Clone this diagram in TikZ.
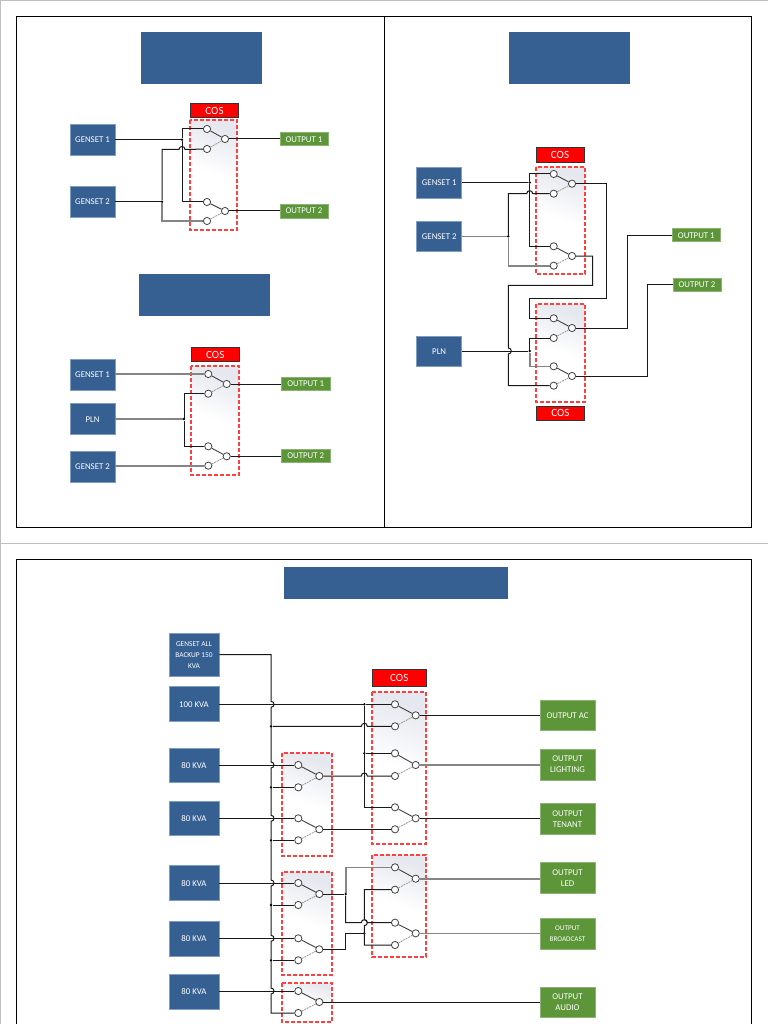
\documentclass[tikz,border=0pt]{standalone}
\usepackage{fontspec}
\setmainfont{Carlito}
\definecolor{blk}{HTML}{366092}
\definecolor{blkb}{HTML}{7F9DBE}
\definecolor{grn}{HTML}{5C9638}
\definecolor{grnb}{HTML}{8DB374}
\definecolor{redd}{HTML}{FF4040}
\definecolor{shad}{HTML}{E6E8EF}
\tikzset{
  x=1pt,y=-1pt,
  blockst/.style={fill=blk,draw=blkb,line width=.5pt,text=white,font=\fontsize{8.8}{11}\selectfont,align=center,inner sep=0pt},
  outst/.style={fill=grn,draw=grnb,line width=.5pt,text=white,font=\fontsize{8.8}{11}\selectfont,align=center,inner sep=0pt},
  cosst/.style={fill=red,draw=black!80,line width=1pt,text=white,font=\fontsize{11}{13}\selectfont,inner sep=0pt},
  titlest/.style={fill=blk,draw=none,inner sep=0pt},
  term/.style={circle,draw=black!75,fill=white,line width=.8pt,minimum size=7.2pt,inner sep=0pt},
  jdot/.style={circle,fill=black,minimum size=2.6pt,inner sep=0pt},
  wire/.style={draw=black!90,line width=1pt},
  gwire/.style={draw=black!48,line width=1.6pt},
  arm/.style={draw=black!75,line width=.9pt},
  armd/.style={draw=black!40,line width=.8pt},
  framest/.style={draw=black,line width=.8pt},
}
% box from corners: style, name, x1, y1, x2, y2, text
\newcommand{\bx}[7]{%
  \pgfmathsetmacro{\bxcx}{(#3+#5)/2}\pgfmathsetmacro{\bxcy}{(#4+#6)/2}%
  \pgfmathsetmacro{\bxw}{#5-#3}\pgfmathsetmacro{\bxh}{#6-#4}%
  \node[#1,minimum width=\bxw pt,minimum height=\bxh pt] (#2) at (\bxcx,\bxcy) {#7};}
% dashed shaded enclosure, corners snapped to whole pixels
\newcommand{\dbox}[4]{%
  \pgfmathsetmacro{\dxa}{round(#1)}\pgfmathsetmacro{\dya}{round(#2)}%
  \pgfmathsetmacro{\dxb}{round(#3)}\pgfmathsetmacro{\dyb}{round(#4)}%
  \shade[top color=shad,bottom color=white,middle color=white,shading angle=-20] (\dxa,\dya) rectangle (\dxb,\dyb);
  \draw[redd,line width=2pt,dash pattern=on 4pt off 2pt] (\dxa,\dya) rectangle (\dxb,\dyb);}
% switch: prefix, xa, ya, yb, xc, yc
\newcommand{\swt}[6]{%
  \node[term] (#1a) at (#2,#3) {};
  \node[term] (#1b) at (#2,#4) {};
  \node[term] (#1c) at (#5,#6) {};
  \draw[arm] (#1a) -- (#1c);
  \draw[armd,dashed,dash pattern=on 2pt off .8pt] (#1b) -- (#1c);}
\newcommand{\hophz}[2]{-- ({#1-3},#2) .. controls ({#1-3},{#2-4}) and ({#1+3},{#2-4}) .. ({#1+3},#2)}
\newcommand{\hopvt}[2]{-- (#1,{#2-3}) .. controls ({#1+4},{#2-3}) and ({#1+4},{#2+3}) .. (#1,{#2+3})}
\begin{document}
\begin{tikzpicture}
\useasboundingbox (0,0) rectangle (768,1024);
\fill[white] (0,0) rectangle (768,1024);
% page edges
\draw[black!25,line width=.8pt] (0,0.5) -- (768,0.5);
\draw[black!25,line width=.8pt] (0,543.5) -- (768,543.5);
\draw[black!25,line width=1pt] (0.5,0) -- (0.5,1024);
% frames
\draw[framest] (16.5,16.5) rectangle (751.5,527.5);
\draw[framest] (384.5,16.5) -- (384.5,527.5);
\draw[framest] (16.5,1024) -- (16.5,559.5) -- (751.5,559.5) -- (751.5,1024);
% titles
\bx{titlest}{t1}{141}{32}{262}{84}{}
\bx{titlest}{t2}{509}{32}{630}{84}{}
\bx{titlest}{t3}{139}{274}{270}{316}{}
\bx{titlest}{t4}{284}{567}{508}{599}{}

%% ---------- Panel 1
\dbox{189.7}{120.3}{237.3}{230}
\bx{cosst}{p1cos}{190.5}{103.5}{238.5}{118}{COS}
\bx{blockst}{p1g1}{70}{124.3}{115}{155.7}{GENSET 1}
\bx{blockst}{p1g2}{70}{186}{115}{217}{GENSET 2}
\bx{outst}{p1o1}{280}{132.7}{328}{145.7}{OUTPUT 1}
\bx{outst}{p1o2}{280}{204}{328}{218}{OUTPUT 2}
\swt{p1s}{207}{129}{149}{225}{139}
\swt{p1u}{207}{202}{221}{225}{211}
\node[jdot] (p1j1) at (182,139.7) {};
\node[jdot] (p1j2) at (162,201.7) {};
\draw[wire] (p1g1.east |- p1j1) -- (p1j1);
\draw[wire] (p1g2.east |- p1j2) -- (p1j2);
\draw[wire] (p1sa) -| (p1j1);
\draw[wire] (p1ua) -| (p1j1);
\draw[wire] (p1j2) |- (176,149.5) \hophz{182}{149.5} -- (p1sb);
\draw[gwire] (p1ub) -| (p1j2);
\draw[wire] (p1sc) -- (p1o1.west |- p1sc);
\draw[wire] (p1uc) -- (p1o2.west |- p1uc);

%% ---------- Panel 2 (right)
\dbox{535.7}{166.7}{584.7}{274.3}
\dbox{535.7}{303.7}{584.7}{402.3}
\bx{cosst}{p2cos}{536}{148}{584}{162.3}{COS}
\bx{cosst}{p2cosb}{536}{406}{584.7}{420.3}{COS}
\bx{blockst}{p2g1}{416.7}{167.3}{461.7}{198}{GENSET 1}
\bx{blockst}{p2g2}{416.7}{221.7}{461.7}{251.7}{GENSET 2}
\bx{blockst}{p2pl}{416.7}{336.7}{461.7}{366.7}{PLN}
\bx{outst}{p2o1}{672.3}{228.7}{720.3}{241.7}{OUTPUT 1}
\bx{outst}{p2o2}{673}{278.3}{721}{291}{OUTPUT 2}
\swt{p2s}{553.7}{174}{193.7}{572}{183.7}
\swt{p2t}{553.7}{246.3}{265.7}{572}{256}
\swt{p2u}{553.7}{318.3}{338}{572}{328}
\swt{p2v}{553.7}{366.3}{385.7}{572}{376}
\node[jdot] (p2j1) at (529.7,182.5) {};
\node[jdot] (p2j2) at (508.3,236.3) {};
\node[jdot] (p2j3) at (529.7,351) {};
\draw[wire] (p2g1.east |- p2j1) -- (p2j1);
\draw[gwire] (p2g2.east |- p2j2) -- (p2j2);
\draw[wire] (p2sa) -| (p2j1);
\draw[wire] (p2ta) -| (p2j1);
\draw[wire] (p2j2) |- (524,193.7) \hophz{529.7}{193.7} -- (p2sb);
\draw[gwire] (p2tb) -| (p2j2);
\draw[wire] (p2sc) -| (606.7,298.7) -| (529.7,318.3) -- (p2ua);
\draw[wire] (p2tc) -| (592.7,285.3) -| (508.3,348) \hopvt{508.3}{351} |- (p2vb);
\draw[wire] (p2pl.east |- p2j3) -- (p2j3);
\draw[wire] (p2ub) -| (p2j3);
\draw[gwire] (p2va) -| (p2j3);
\draw[wire] (p2uc) -| (627.3,235) -- (p2o1.west |- 627.3,235);
\draw[wire] (p2vc) -| (647.3,284.3) -- (p2o2.west |- 647.3,284.3);

%% ---------- Panel 3 (left lower)
\dbox{191.3}{365.7}{239.3}{475}
\bx{cosst}{p3cos}{191.5}{347.5}{239}{361.7}{COS}
\bx{blockst}{p3g1}{70}{359}{115}{390}{GENSET 1}
\bx{blockst}{p3pl}{70}{403.7}{115}{434.7}{PLN}
\bx{blockst}{p3g2}{70}{451.3}{115}{482.3}{GENSET 2}
\bx{outst}{p3o1}{281.3}{377.3}{330}{390.3}{OUTPUT 1}
\bx{outst}{p3o2}{281.3}{449.3}{330}{462.7}{OUTPUT 2}
\swt{p3s}{208.3}{374}{393.7}{226.7}{384}
\swt{p3u}{208.3}{446.3}{465.7}{226.7}{456.3}
\node[jdot] (p3j) at (184,419) {};
\draw[gwire] (p3g1.east |- p3sa) -- (p3sa);
\draw[gwire] (p3pl.east |- p3j) -- (p3j);
\draw[gwire] (p3g2.east |- p3ub) -- (p3ub);
\draw[wire] (p3sb) -| (p3j);
\draw[wire] (p3ua) -| (p3j);
\draw[wire] (p3sc) -- (p3o1.west |- p3sc);
\draw[wire] (p3uc) -- (p3o2.west |- p3uc);

%% ---------- Bottom panel
\dbox{372.3}{691.7}{426}{843.7}
\dbox{372.3}{854.7}{426}{957.3}
\dbox{282.3}{753.3}{332}{855.7}
\dbox{282.3}{872}{332}{975.3}
\dbox{282.3}{983.3}{332}{1022}
\bx{cosst}{bcos}{372.5}{669}{426}{686.3}{COS}
\bx{blockst}{bg0}{169}{633.3}{219}{676}{\fontsize{7.4}{9.3}\selectfont GENSET ALL\\[0pt]\fontsize{7.4}{9.3}\selectfont BACKUP 150\\[0pt]\fontsize{7.4}{9.3}\selectfont KVA}
\bx{blockst}{bg1}{169}{686.7}{219}{721.7}{100 KVA}
\bx{blockst}{bg2}{169}{748.7}{219}{782.3}{80 KVA}
\bx{blockst}{bg3}{169}{801}{219}{835.7}{80 KVA}
\bx{blockst}{bg4}{169}{865.7}{219}{900.7}{80 KVA}
\bx{blockst}{bg5}{169}{921.3}{219}{956}{80 KVA}
\bx{blockst}{bg6}{169}{974}{219}{1009}{80 KVA}
\bx{outst}{bo1}{540}{700}{595}{730.7}{OUTPUT AC}
\bx{outst}{bo2}{540}{749.3}{595}{780}{OUTPUT\\LIGHTING}
\bx{outst}{bo3}{540}{803.3}{595}{834}{OUTPUT\\TENANT}
\bx{outst}{bo4}{540}{862.7}{595}{893.3}{OUTPUT\\LED}
\bx{outst}{bo5}{540}{918.3}{595}{949}{\fontsize{7.2}{9.3}\selectfont OUTPUT\\\fontsize{7.2}{9.3}\selectfont BROADCAST}
\bx{outst}{bo6}{540}{987.3}{595}{1017.7}{OUTPUT\\AUDIO}
\swt{r1}{395}{704.3}{726.3}{415.7}{715.3}
\swt{r2}{395}{753.3}{776}{415.7}{765}
\swt{r3}{395}{807.3}{829.3}{415.7}{818.3}
\swt{r4}{395}{867.3}{889.7}{415.7}{878.7}
\swt{r5}{395}{922.7}{945}{415.7}{933.3}
\swt{l1}{298.3}{765}{787.3}{319.3}{776}
\swt{l2}{298.3}{818.3}{840.3}{319.3}{829.3}
\swt{l3}{298.3}{883}{905}{319.3}{894}
\swt{l4}{298.3}{938.3}{960.3}{319.3}{949.3}
\swt{l5}{298.3}{991}{1013}{319.3}{1002}
% bus with hops
\draw[wire] (bg0.east |- 0,654.5) -| (271,701.3) \hopvt{271}{704.3} \hopvt{271}{765} \hopvt{271}{818.3} \hopvt{271}{883} \hopvt{271}{938.3} \hopvt{271}{991} |- (l5b);
\node[jdot] (bj1) at (271,726.3) {};
\node[jdot] (bj2) at (271,787.3) {};
\node[jdot] (bj3) at (271,840.3) {};
\node[jdot] (bj4) at (271,905) {};
\node[jdot] (bj5) at (271,960.3) {};
\node[jdot] (cj1) at (364.3,704.3) {};
\node[jdot] (cj2) at (364.3,753.3) {};
\node[jdot] (cj3) at (345.7,894) {};
\node[jdot] (cj4) at (364.3,933.3) {};
% sources
\draw[wire] (bg1.east |- cj1) -- (cj1) -- (r1a);
\draw[wire] (bj1) \hophz{364.3}{726.3} -- (r1b);
\draw[wire] (cj1) |- (r3a);
\draw[wire] (cj2) -- (r2a);
\draw[wire] (bg2.east |- l1a) -- (l1a);
\draw[wire] (bj2) -- (l1b);
\draw[wire] (l1c) \hophz{364.3}{776} -- (r2b);
\draw[wire] (bg3.east |- l2a) -- (l2a);
\draw[wire] (bj3) -- (l2b);
\draw[wire] (l2c) -- (r3b);
\draw[wire] (bg4.east |- l3a) -- (l3a);
\draw[wire] (bj4) -- (l3b);
\draw[wire] (l3c) -- (cj3);
\draw[gwire] (cj3) |- (r4a);
\draw[wire] (cj3) |- (358.3,922.7) \hophz{364.3}{922.7} -- (r5a);
\draw[wire] (bg5.east |- l4a) -- (l4a);
\draw[wire] (bj5) -- (l4b);
\draw[wire] (l4c) -| (345.7,933.3) -- (cj4);
\draw[wire] (r4b) -| (364.3,919.7) \hopvt{364.3}{922.7} |- (r5b);
\draw[wire] (bg6.east |- l5a) -- (l5a);
\draw[wire] (l5c) -- (bo6.west |- l5c);
% outputs
\draw[wire] (r1c) -- (bo1.west |- r1c);
\draw[gwire] (r2c) -- (bo2.west |- r2c);
\draw[wire] (r3c) -- (bo3.west |- r3c);
\draw[gwire] (r4c) -- (bo4.west |- r4c);
\draw[gwire] (r5c) -- (bo5.west |- r5c);
\end{tikzpicture}
\end{document}
